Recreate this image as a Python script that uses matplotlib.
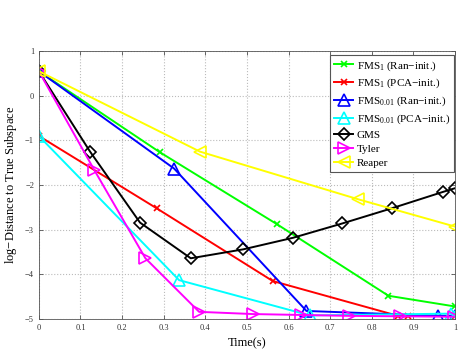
import matplotlib
matplotlib.use('Agg')
import matplotlib.pyplot as plt
import numpy as np

plt.rcParams['font.family'] = 'Liberation Serif'
plt.rcParams['mathtext.fontset'] = 'custom'
plt.rcParams['mathtext.rm'] = 'Liberation Serif'
plt.rcParams['mathtext.it'] = 'Liberation Serif:italic'

# data: (time, log-distance)
fms1_ran_t = [0, 0.29, 0.571, 0.84, 1.0]
fms1_ran_y = [0.55, -1.26, -2.87, -4.48, -4.72]
fms1_pca_t = [0, 0.283, 0.562, 0.863, 0.888, 1.0]
fms1_pca_y = [-0.9, -2.52, -4.15, -4.93, -4.93, -4.93]
fms001_ran_t = [0, 0.325, 0.643, 0.96, 1.0]
fms001_ran_y = [0.55, -1.63, -4.82, -4.93, -4.93]
fms001_pca_t = [0, 0.337, 0.651, 0.99, 1.0]
fms001_pca_y = [-0.9, -4.13, -4.92, -4.88, -4.95]
gms_t = [0, 0.123, 0.243, 0.365, 0.491, 0.611, 0.729, 0.848, 0.972, 1.0]
gms_y = [0.55, -1.25, -2.84, -3.64, -3.44, -3.18, -2.86, -2.52, -2.15, -2.07]
tyler_t = [0, 0.133, 0.256, 0.385, 0.515, 0.63, 0.746, 0.868, 0.998]
tyler_y = [0.55, -1.66, -3.64, -4.84, -4.89, -4.91, -4.93, -4.94, -4.95]
reaper_t = [0, 0.387, 0.768, 1.0]
reaper_y = [0.55, -1.25, -2.32, -2.93]

labels = [r'FMS$_1$ (Ran$-$init.)', r'FMS$_1$ (PCA$-$init.)',
          r'FMS$_{0.01}$ (Ran$-$init.)', r'FMS$_{0.01}$ (PCA$-$init.)',
          'GMS', 'Tyler', 'Reaper']
fsz = 8

#-----

fig = plt.figure(figsize=(4.74, 3.58), dpi=100)
ax = fig.add_axes([0.082, 0.109, 0.878, 0.748])

ax.plot(fms1_ran_t, fms1_ran_y, color='#00ff00', marker='x', ms=5, mew=1.2, lw=1.4, label=labels[0])
ax.plot(fms1_pca_t, fms1_pca_y, color='#ff0000', marker='x', ms=5, mew=1.2, lw=1.4, label=labels[1])
ax.plot(fms001_ran_t, fms001_ran_y, color='#0000ff', marker='^', ms=8, mfc='none', mew=1.2, lw=1.4, label=labels[2])
ax.plot(fms001_pca_t, fms001_pca_y, color='#00ffff', marker='^', ms=8, mfc='none', mew=1.2, lw=1.4, label=labels[3])
ax.plot(gms_t, gms_y, color='black', marker='D', ms=6.5, mfc='none', mew=1.2, lw=1.4, label=labels[4])
ax.plot(tyler_t, tyler_y, color='#ff00ff', marker='>', ms=8, mfc='none', mew=1.2, lw=1.4, label=labels[5])
ax.plot(reaper_t, reaper_y, color='#ffff00', marker='<', ms=8, mfc='none', mew=1.2, lw=1.4, label=labels[6])

ax.set_xlim(0, 1)
ax.set_ylim(-5, 1)
ax.set_xticks(np.arange(0, 1.01, 0.1))
ax.set_xticklabels(['0', '0.1', '0.2', '0.3', '0.4', '0.5', '0.6', '0.7', '0.8', '0.9', '1'])
ax.set_yticks(np.arange(-5, 2, 1))
ax.tick_params(direction='in', top=True, right=True, labelsize=6, length=3, width=0.5, colors='#333333')
for s in ax.spines.values():
    s.set_linewidth(0.6)
    s.set_color('#555555')
ax.grid(True, linestyle=':', color='#bbbbbb', lw=0.8)

ax.set_xlabel('Time(s)', fontsize=9)
ax.set_ylabel('log$-$Distance to True Subspace', fontsize=9)

leg = ax.legend(loc='upper right', bbox_to_anchor=(0.997, 0.985), fontsize=fsz, fancybox=False,
                edgecolor='#555555', framealpha=1, handlelength=1.7, handletextpad=0.3,
                labelspacing=0.38, borderpad=0.35, borderaxespad=0)
leg.get_frame().set_linewidth(0.8)

plt.savefig('out.png', dpi=100)
